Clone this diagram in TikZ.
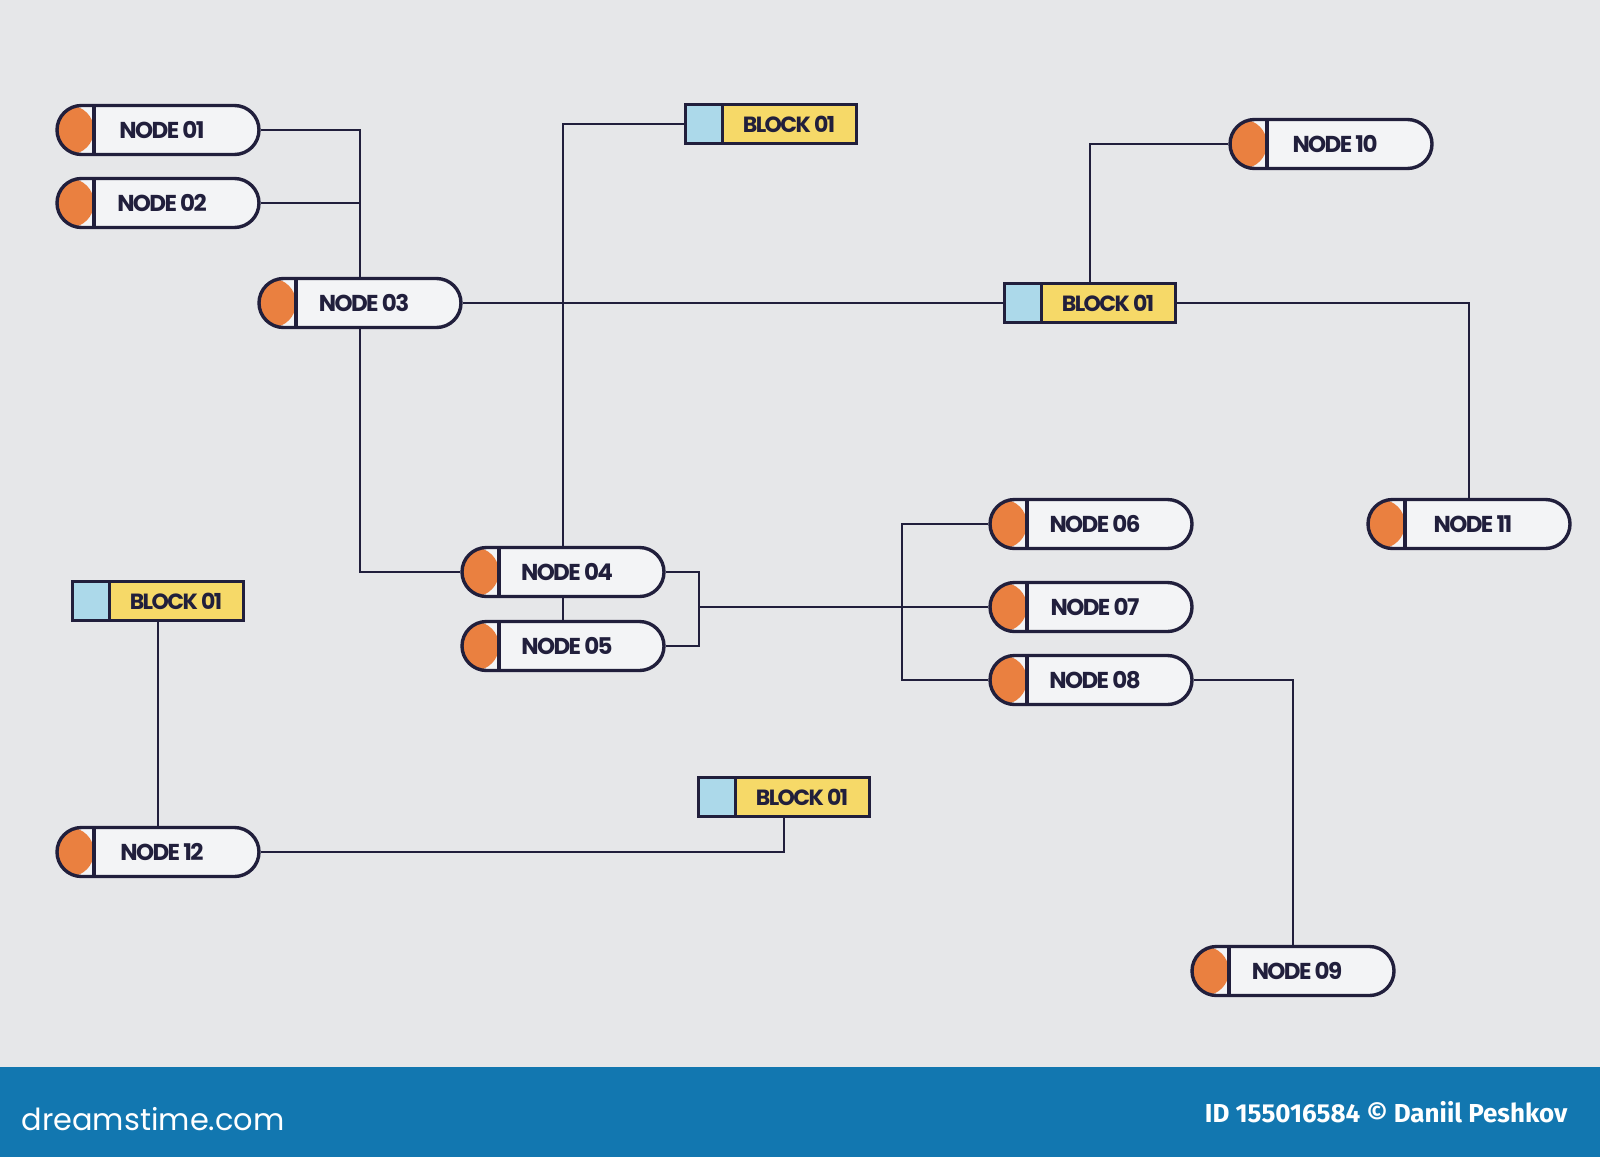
\documentclass[tikz,border=0pt]{standalone}
\usepackage{fontspec}
\newfontfamily\lblfont[LetterSpace=-7]{Poppins}
\newfontfamily\logofont{Poppins}
\newfontfamily\barfont{Fira Sans}
\definecolor{tmbg}{RGB}{230,231,233}
\definecolor{tmbar}{RGB}{18,119,176}
\definecolor{tmnavy}{RGB}{33,31,60}
\definecolor{tmpaper}{RGB}{243,244,246}
\definecolor{tmorange}{RGB}{234,128,64}
\definecolor{tmblue}{RGB}{172,217,234}
\definecolor{tmyellow}{RGB}{246,217,104}

\begin{document}
\begin{tikzpicture}[x=0.5pt,y=-0.5pt,line width=1.7pt,
  pill/.style={draw=tmnavy,fill=tmpaper,rounded corners=12.25pt,
    minimum width=101pt,minimum height=24.5pt,inner sep=0pt,text=tmnavy,
    font=\lblfont\bfseries\fontsize{11.5}{12}\selectfont,
    path picture={
      \fill[tmorange] (path picture bounding box.south west) rectangle ([xshift=18.5pt]path picture bounding box.north west);
      \draw[tmnavy] ([xshift=18.5pt]path picture bounding box.south west) -- ([xshift=18.5pt]path picture bounding box.north west);}},
  block/.style={draw=tmnavy,fill=tmyellow,minimum width=85.5pt,minimum height=19.5pt,
    inner sep=0pt,text=tmnavy,font=\lblfont\bfseries\fontsize{11}{12}\selectfont,
    path picture={
      \fill[tmblue] (path picture bounding box.south west) rectangle ([xshift=18.5pt]path picture bounding box.north west);
      \draw[tmnavy] ([xshift=18.5pt]path picture bounding box.south west) -- ([xshift=18.5pt]path picture bounding box.north west);}},
  wire/.style={draw=tmnavy,line width=1.4pt}]
  \useasboundingbox (0,0) rectangle (1600,1157);
  \fill[tmbg] (0,0) rectangle (1600,1067);
  \fill[tmbar] (0,1067) rectangle (1600,1157);

  \node[pill] (n01) at (158,130) {\hspace*{4pt}NODE 01};
  \node[pill] (n02) at (158,203) {\hspace*{4pt}NODE 02};
  \node[pill] (n03) at (360,303) {\hspace*{4pt}NODE 03};
  \node[pill] (n04) at (563,572) {\hspace*{4pt}NODE 04};
  \node[pill] (n05) at (563,646) {\hspace*{4pt}NODE 05};
  \node[pill] (n06) at (1091,524) {\hspace*{4pt}NODE 06};
  \node[pill] (n07) at (1091,607) {\hspace*{4pt}NODE 07};
  \node[pill] (n08) at (1091,680) {\hspace*{4pt}NODE 08};
  \node[pill] (n09) at (1293,971) {\hspace*{4pt}NODE 09};
  \node[pill] (n10) at (1331,144) {\hspace*{4pt}NODE 10};
  \node[pill] (n11) at (1469,524) {\hspace*{4pt}NODE 11};
  \node[pill] (n12) at (158,852) {\hspace*{4pt}NODE 12};

  \node[block] (ba) at (771,124) {\hspace*{18pt}BLOCK 01};
  \node[block] (bb) at (1090,303) {\hspace*{18pt}BLOCK 01};
  \node[block] (bc) at (158,601) {\hspace*{18pt}BLOCK 01};
  \node[block] (bd) at (784,797) {\hspace*{18pt}BLOCK 01};

  \coordinate (j1) at (699,607);
  \coordinate (j2) at (902,607);

  \draw[wire] (n01.east) -| (n03.north);
  \draw[wire] (n02.east) -- (n02.east -| n03.north);
  \draw[wire] (n03.south) |- (n04.west);
  \draw[wire] (n03.east) -- (bb.west);
  \draw[wire] (ba.west) -| (n04.north);
  \draw[wire] (n04.south) -- (n05.north);
  \draw[wire] (n04.east) -| (j1);
  \draw[wire] (n05.east) -| (j1);
  \draw[wire] (j1) -- (n07.west);
  \draw[wire] (n06.west) -| (j2) |- (n08.west);
  \draw[wire] (n08.east) -| (n09.north);
  \draw[wire] (bb.north) |- (n10.west);
  \draw[wire] (bb.east) -| (n11.north);
  \draw[wire] (bc.south) -- (n12.north);
  \draw[wire] (n12.east) -| (bd.south);

  \node[anchor=west,inner sep=0pt,text=white,font=\logofont\fontsize{15.2}{16}\selectfont] (logo) at (20,1119) {dreamstime.com};
  \node[anchor=east,inner sep=0pt,text=white,font=\barfont\bfseries\fontsize{13}{13}\selectfont] (credit) at (1569,1112) {ID 155016584 © Daniil Peshkov};
\end{tikzpicture}
\end{document}
